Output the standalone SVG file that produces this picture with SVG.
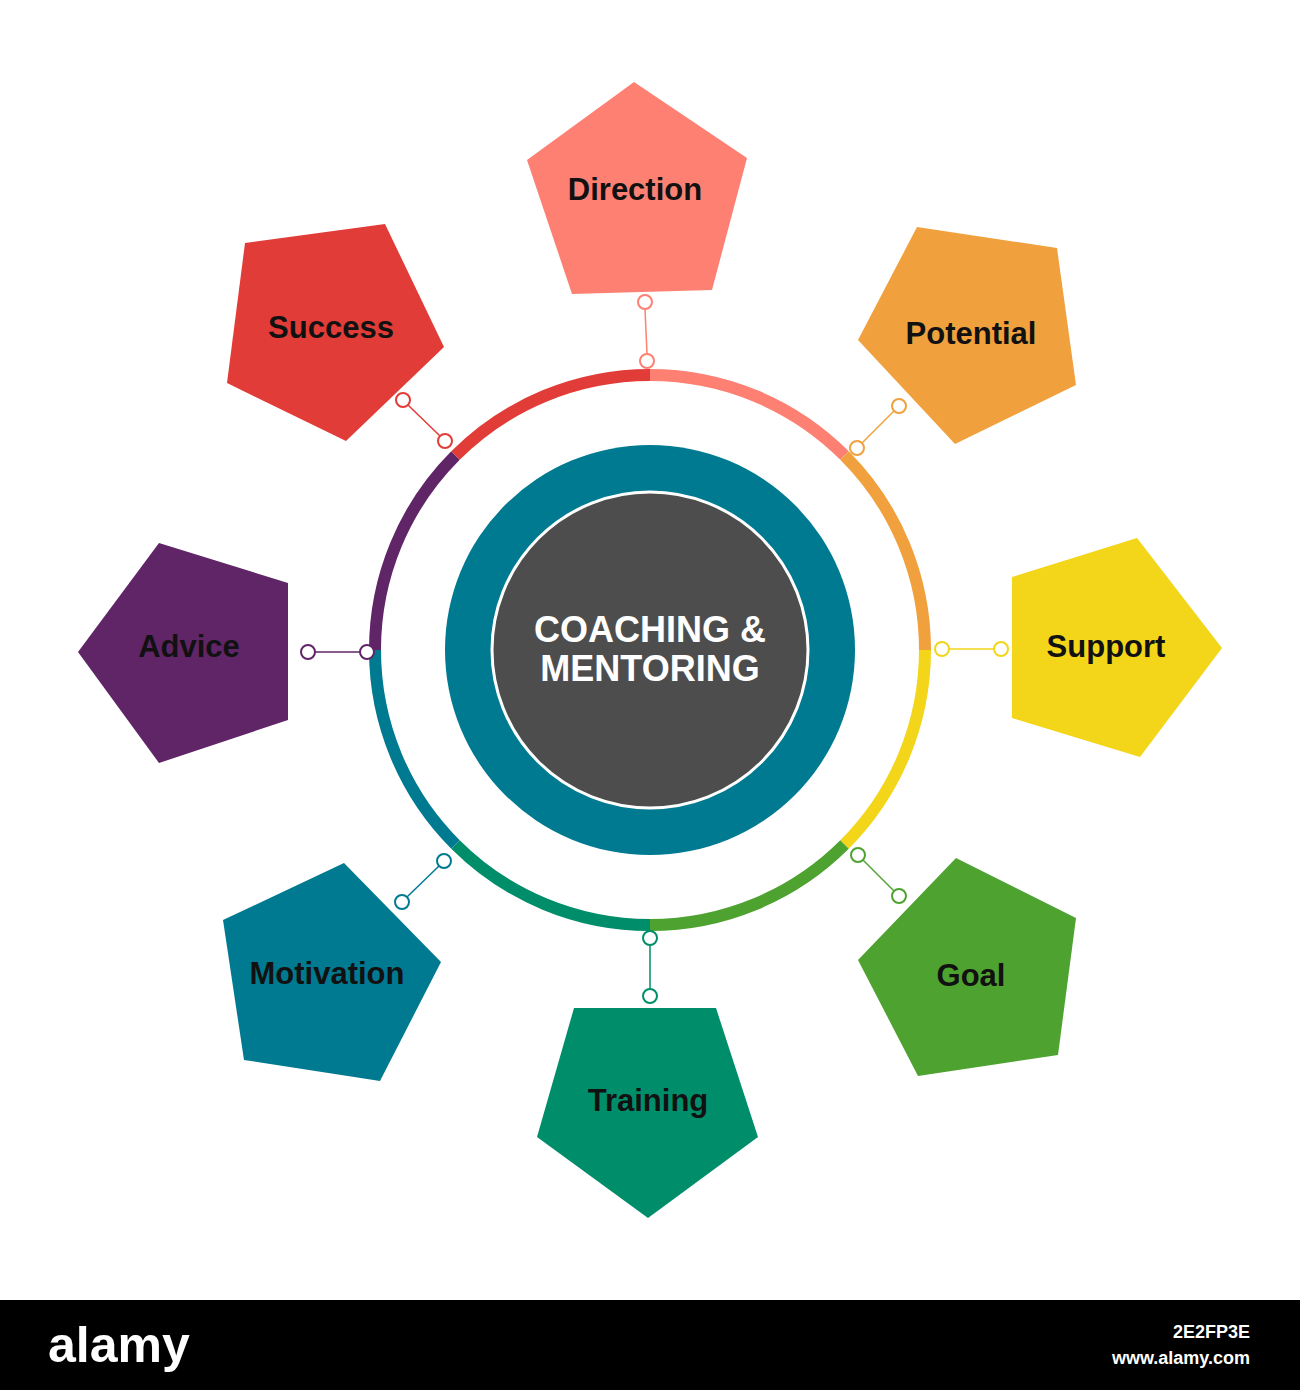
<svg xmlns="http://www.w3.org/2000/svg" width="1300" height="1390" viewBox="0 0 1300 1390">
<style>
.lbl{font-family:"Liberation Sans",Arial,sans-serif;font-weight:bold;font-size:31px;fill:#111;text-anchor:middle}
.ctr{font-family:"Liberation Sans",Arial,sans-serif;font-weight:bold;font-size:36px;fill:#fff;text-anchor:middle}
.arc{fill:none;stroke-width:12}
.dot{fill:#fff;stroke-width:2}
</style>
<rect width="1300" height="1390" fill="#fff"/>
<g id="ring">
<path class="arc" stroke="#fd8072" d="M650,375 A275,275 0 0 1 844.5,455.5"/>
<path class="arc" stroke="#f0a03c" d="M844.5,455.5 A275,275 0 0 1 925,650"/>
<path class="arc" stroke="#f3d51a" d="M925,650 A275,275 0 0 1 844.5,844.5"/>
<path class="arc" stroke="#4ea22f" d="M844.5,844.5 A275,275 0 0 1 650,925"/>
<path class="arc" stroke="#008e6a" d="M650,925 A275,275 0 0 1 455.5,844.5"/>
<path class="arc" stroke="#007a91" d="M455.5,844.5 A275,275 0 0 1 375,650"/>
<path class="arc" stroke="#602567" d="M375,650 A275,275 0 0 1 455.5,455.5"/>
<path class="arc" stroke="#e13c37" d="M455.5,455.5 A275,275 0 0 1 650,375"/>
</g>
<g id="center">
<circle cx="650" cy="650" r="205" fill="#007a91"/>
<circle cx="650" cy="650" r="158" fill="#4d4d4d" stroke="#fff" stroke-width="3"/>
<text class="ctr" x="650" y="642">COACHING &amp;</text>
<text class="ctr" x="650" y="681">MENTORING</text>
</g>
<g id="connectors" stroke-width="1.5">
<g stroke="#fd8072"><line x1="645" y1="309" x2="647" y2="354"/><circle class="dot" cx="645" cy="302" r="7"/><circle class="dot" cx="647" cy="361" r="7"/></g>
<g stroke="#f0a03c"><line x1="894" y1="411" x2="862" y2="443"/><circle class="dot" cx="899" cy="406" r="7"/><circle class="dot" cx="857" cy="448" r="7"/></g>
<g stroke="#f3d51a"><line x1="949" y1="649" x2="994" y2="649"/><circle class="dot" cx="942" cy="649" r="7"/><circle class="dot" cx="1001" cy="649" r="7"/></g>
<g stroke="#4ea22f"><line x1="863" y1="860" x2="894" y2="891"/><circle class="dot" cx="858" cy="855" r="7"/><circle class="dot" cx="899" cy="896" r="7"/></g>
<g stroke="#008e6a"><line x1="650" y1="945" x2="650" y2="989"/><circle class="dot" cx="650" cy="938" r="7"/><circle class="dot" cx="650" cy="996" r="7"/></g>
<g stroke="#007a91"><line x1="439" y1="866" x2="407" y2="897"/><circle class="dot" cx="444" cy="861" r="7"/><circle class="dot" cx="402" cy="902" r="7"/></g>
<g stroke="#602567"><line x1="315" y1="652" x2="360" y2="652"/><circle class="dot" cx="308" cy="652" r="7"/><circle class="dot" cx="367" cy="652" r="7"/></g>
<g stroke="#e13c37"><line x1="408" y1="405" x2="440" y2="436"/><circle class="dot" cx="403" cy="400" r="7"/><circle class="dot" cx="445" cy="441" r="7"/></g>
</g>
<g id="direction"><polygon points="634,82 747,158 712,290 572,294 527,160" fill="#fd8072"/><text class="lbl" x="635" y="200">Direction</text></g>
<g id="potential"><polygon points="858,340 917,227 1057,248 1076,385 955,444" fill="#f0a03c"/><text class="lbl" x="971" y="344">Potential</text></g>
<g id="support"><polygon points="1012,577 1137,538 1222,648 1140,757 1012,718" fill="#f3d51a"/><text class="lbl" x="1106" y="657">Support</text></g>
<g id="goal"><polygon points="858,960 956,858 1076,918 1058,1055 918,1076" fill="#4ea22f"/><text class="lbl" x="971" y="986">Goal</text></g>
<g id="training"><polygon points="574,1008 716,1008 758,1137 648,1218 537,1137" fill="#008e6a"/><text class="lbl" x="648" y="1111">Training</text></g>
<g id="motivation"><polygon points="223,920 344,863 441,962 380,1081 244,1060" fill="#007a91"/><text class="lbl" x="327" y="984">Motivation</text></g>
<g id="advice"><polygon points="78,652 159,543 288,583 288,720 159,763" fill="#602567"/><text class="lbl" x="189" y="657">Advice</text></g>
<g id="success"><polygon points="227,383 245,243 385,224 444,347 346,441" fill="#e13c37"/><text class="lbl" x="331" y="338">Success</text></g>
<g id="footer">
<rect x="0" y="1300" width="1300" height="90" fill="#000"/>
<text x="48" y="1362" font-family="Liberation Sans,Arial,sans-serif" font-weight="bold" font-size="50" fill="#fff">alamy</text>
<text x="1250" y="1338" font-family="Liberation Sans,Arial,sans-serif" font-weight="bold" font-size="18" fill="#fff" text-anchor="end">2E2FP3E</text>
<text x="1250" y="1364" font-family="Liberation Sans,Arial,sans-serif" font-weight="bold" font-size="18" fill="#fff" text-anchor="end">www.alamy.com</text>
</g>
</svg>
